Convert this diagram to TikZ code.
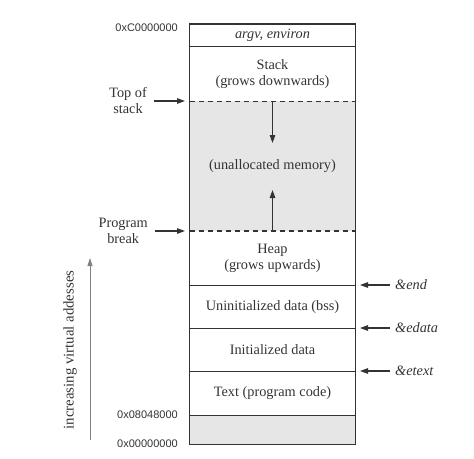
\documentclass[tikz,border=0pt]{standalone}
\usepackage{fontspec}
\setmainfont{Liberation Serif}
\newfontfamily\addrfont{Liberation Sans}
\usetikzlibrary{arrows.meta,positioning}
\definecolor{freegray}{HTML}{E6E6E6}
\definecolor{linedark}{HTML}{333333}

\begin{document}
\begin{tikzpicture}[x=1pt,y=-1pt,
 every node/.style={font=\fontsize{14.3}{16}\selectfont,align=center,text=linedark},
 seg/.style={minimum width=165pt,inner sep=0pt,anchor=north},
 free/.style={seg,fill=freegray},
 addr/.style={font=\addrfont\fontsize{11}{13}\selectfont,anchor=east,inner sep=0pt},
 sym/.style={font=\itshape\fontsize{14.3}{16}\selectfont,anchor=west,inner sep=0pt,inner xsep=5pt},
 side/.style={inner sep=7pt,anchor=east},
 arr/.style={-{Triangle[length=8pt,width=5.5pt]},line width=1.2pt,draw=linedark},
 rule/.style={line width=1.1pt,draw=linedark}]
 \useasboundingbox (0,0) rectangle (474,458);
 % memory segments, top to bottom
 \node[seg,minimum height=22pt] (argv) at (272.5,24) {\itshape argv, environ};
 \node[seg,minimum height=55pt] (stack) at (272.5,46) {Stack\\(grows downwards)};
 \node[free,minimum height=130pt] (unal) at (272.5,101) {(unallocated memory)};
 \node[seg,minimum height=54pt] (heap) at (272.5,231) {Heap\\(grows upwards)};
 \node[seg,minimum height=43pt] (bss) at (272.5,285) {Uninitialized data (bss)};
 \node[seg,minimum height=43pt] (data) at (272.5,328) {Initialized data};
 \node[seg,minimum height=44pt] (text) at (272.5,371) {Text (program code)};
 \node[free,minimum height=29pt] (low) at (272.5,415) {};
 \draw[rule] (argv.north west) rectangle (low.south east);
 \draw[rule] (argv.south west) -- (argv.south east);
 \draw[rule,dashed,dash pattern=on 5pt off 4pt] (stack.south west) -- (stack.south east);
 \draw[rule,dashed,dash pattern=on 5pt off 4pt] (heap.north west) -- (heap.north east);
 \draw[rule] (heap.south west) -- (heap.south east);
 \draw[rule] (bss.south west) -- (bss.south east);
 \draw[rule] (data.south west) -- (data.south east);
 \draw[rule] (text.south west) -- (text.south east);
 % growth arrows
 \coordinate (sdown) at (272.5,143);
 \coordinate (hup) at (272.5,190);
 \draw[arr] (unal.north) -- (sdown);
 \draw[arr] (unal.south) -- (hup);
 % addresses
 \node[addr] (ahigh) at (178,28) {0xC0000000};
 \node[addr] (atext) at (178,415) {0x08048000};
 \node[addr] (azero) at (178,444) {0x00000000};
 % left labels
 \node[side] (tos) at (154,101) {Top of\\stack};
 \node[side] (brk) at (155,231) {Program\\break};
 \coordinate (tosp) at (185,101);
 \coordinate (brkp) at (185,231);
 \draw[arr] (tos.east) -- (tosp);
 \draw[arr] (brk.east) -- (brkp);
 % right labels
 \node[sym] (end) at (390,285) {\&end};
 \node[sym] (edata) at (390,328) {\&edata};
 \node[sym] (etext) at (390,371) {\&etext};
 \coordinate (endp) at (360,285);
 \coordinate (edatap) at (360,328);
 \coordinate (etextp) at (360,371);
 \draw[arr] (end.west) -- (endp);
 \draw[arr] (edata.west) -- (edatap);
 \draw[arr] (etext.west) -- (etextp);
 % direction of addresses
 \coordinate (vlow) at (90,440);
 \coordinate (vhigh) at (90,258);
 \draw[-{Triangle[length=8pt,width=5pt]},line width=.8pt,draw=gray] (vlow) -- (vhigh);
 \node[rotate=90,inner sep=0pt,font=\fontsize{14.8}{16}\selectfont] (vaddr) at (70,350) {increasing virtual addesses};
\end{tikzpicture}
\end{document}
